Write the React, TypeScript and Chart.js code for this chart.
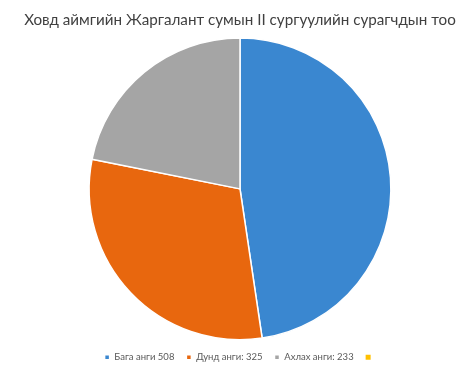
import React, { useEffect, useRef } from "react";
import { Chart, registerables } from "chart.js";

Chart.register(...registerables);

const titleText = "Ховд аймгийн Жаргалант сумын II сургуулийн сурагчдын тоо";
const categories = ["Бага анги 508", "Дунд анги: 325", "Ахлах анги: 233", ""];
const values = [508, 325, 233, 0];
const colors = ["#3A87D0", "#E8670E", "#A5A5A5", "#FFC000"];

export default function App() {
  const ref = useRef<HTMLCanvasElement | null>(null);
  useEffect(() => {
    if (!ref.current) return;
    const chart = new Chart(ref.current, {
      type: "pie",
      data: {
        labels: categories,
        datasets: [
          {
            data: values,
            backgroundColor: colors,
            borderColor: "#ffffff",
            borderWidth: [1.5, 1.5, 1.5, 0],
          },
        ],
      },
      options: {
        animation: false,
        responsive: false,
        maintainAspectRatio: false,
        layout: { padding: { left: 6, right: 0, top: 0, bottom: 0 } },
        plugins: {
          title: {
            display: true,
            text: titleText,
            color: "#404040",
            font: { family: "Lato, sans-serif", size: 15.2, weight: "normal" },
            padding: { top: 11, bottom: 8 },
          },
          legend: {
            display: true,
            position: "bottom",
            labels: {
              color: "#595959",
              font: { family: "Lato, sans-serif", size: 9.5 },
              boxWidth: 5,
              boxHeight: 5,
              padding: 12,
            },
          },
          tooltip: { enabled: false },
        },
      },
    });
    return () => chart.destroy();
  }, []);
  return (
    <div style={{ position: "fixed", left: 0, top: 0, width: 474, height: 372, background: "#fff" }}>
      <canvas ref={ref} width={474} height={372} style={{ width: 474, height: 372 }} />
    </div>
  );
}
